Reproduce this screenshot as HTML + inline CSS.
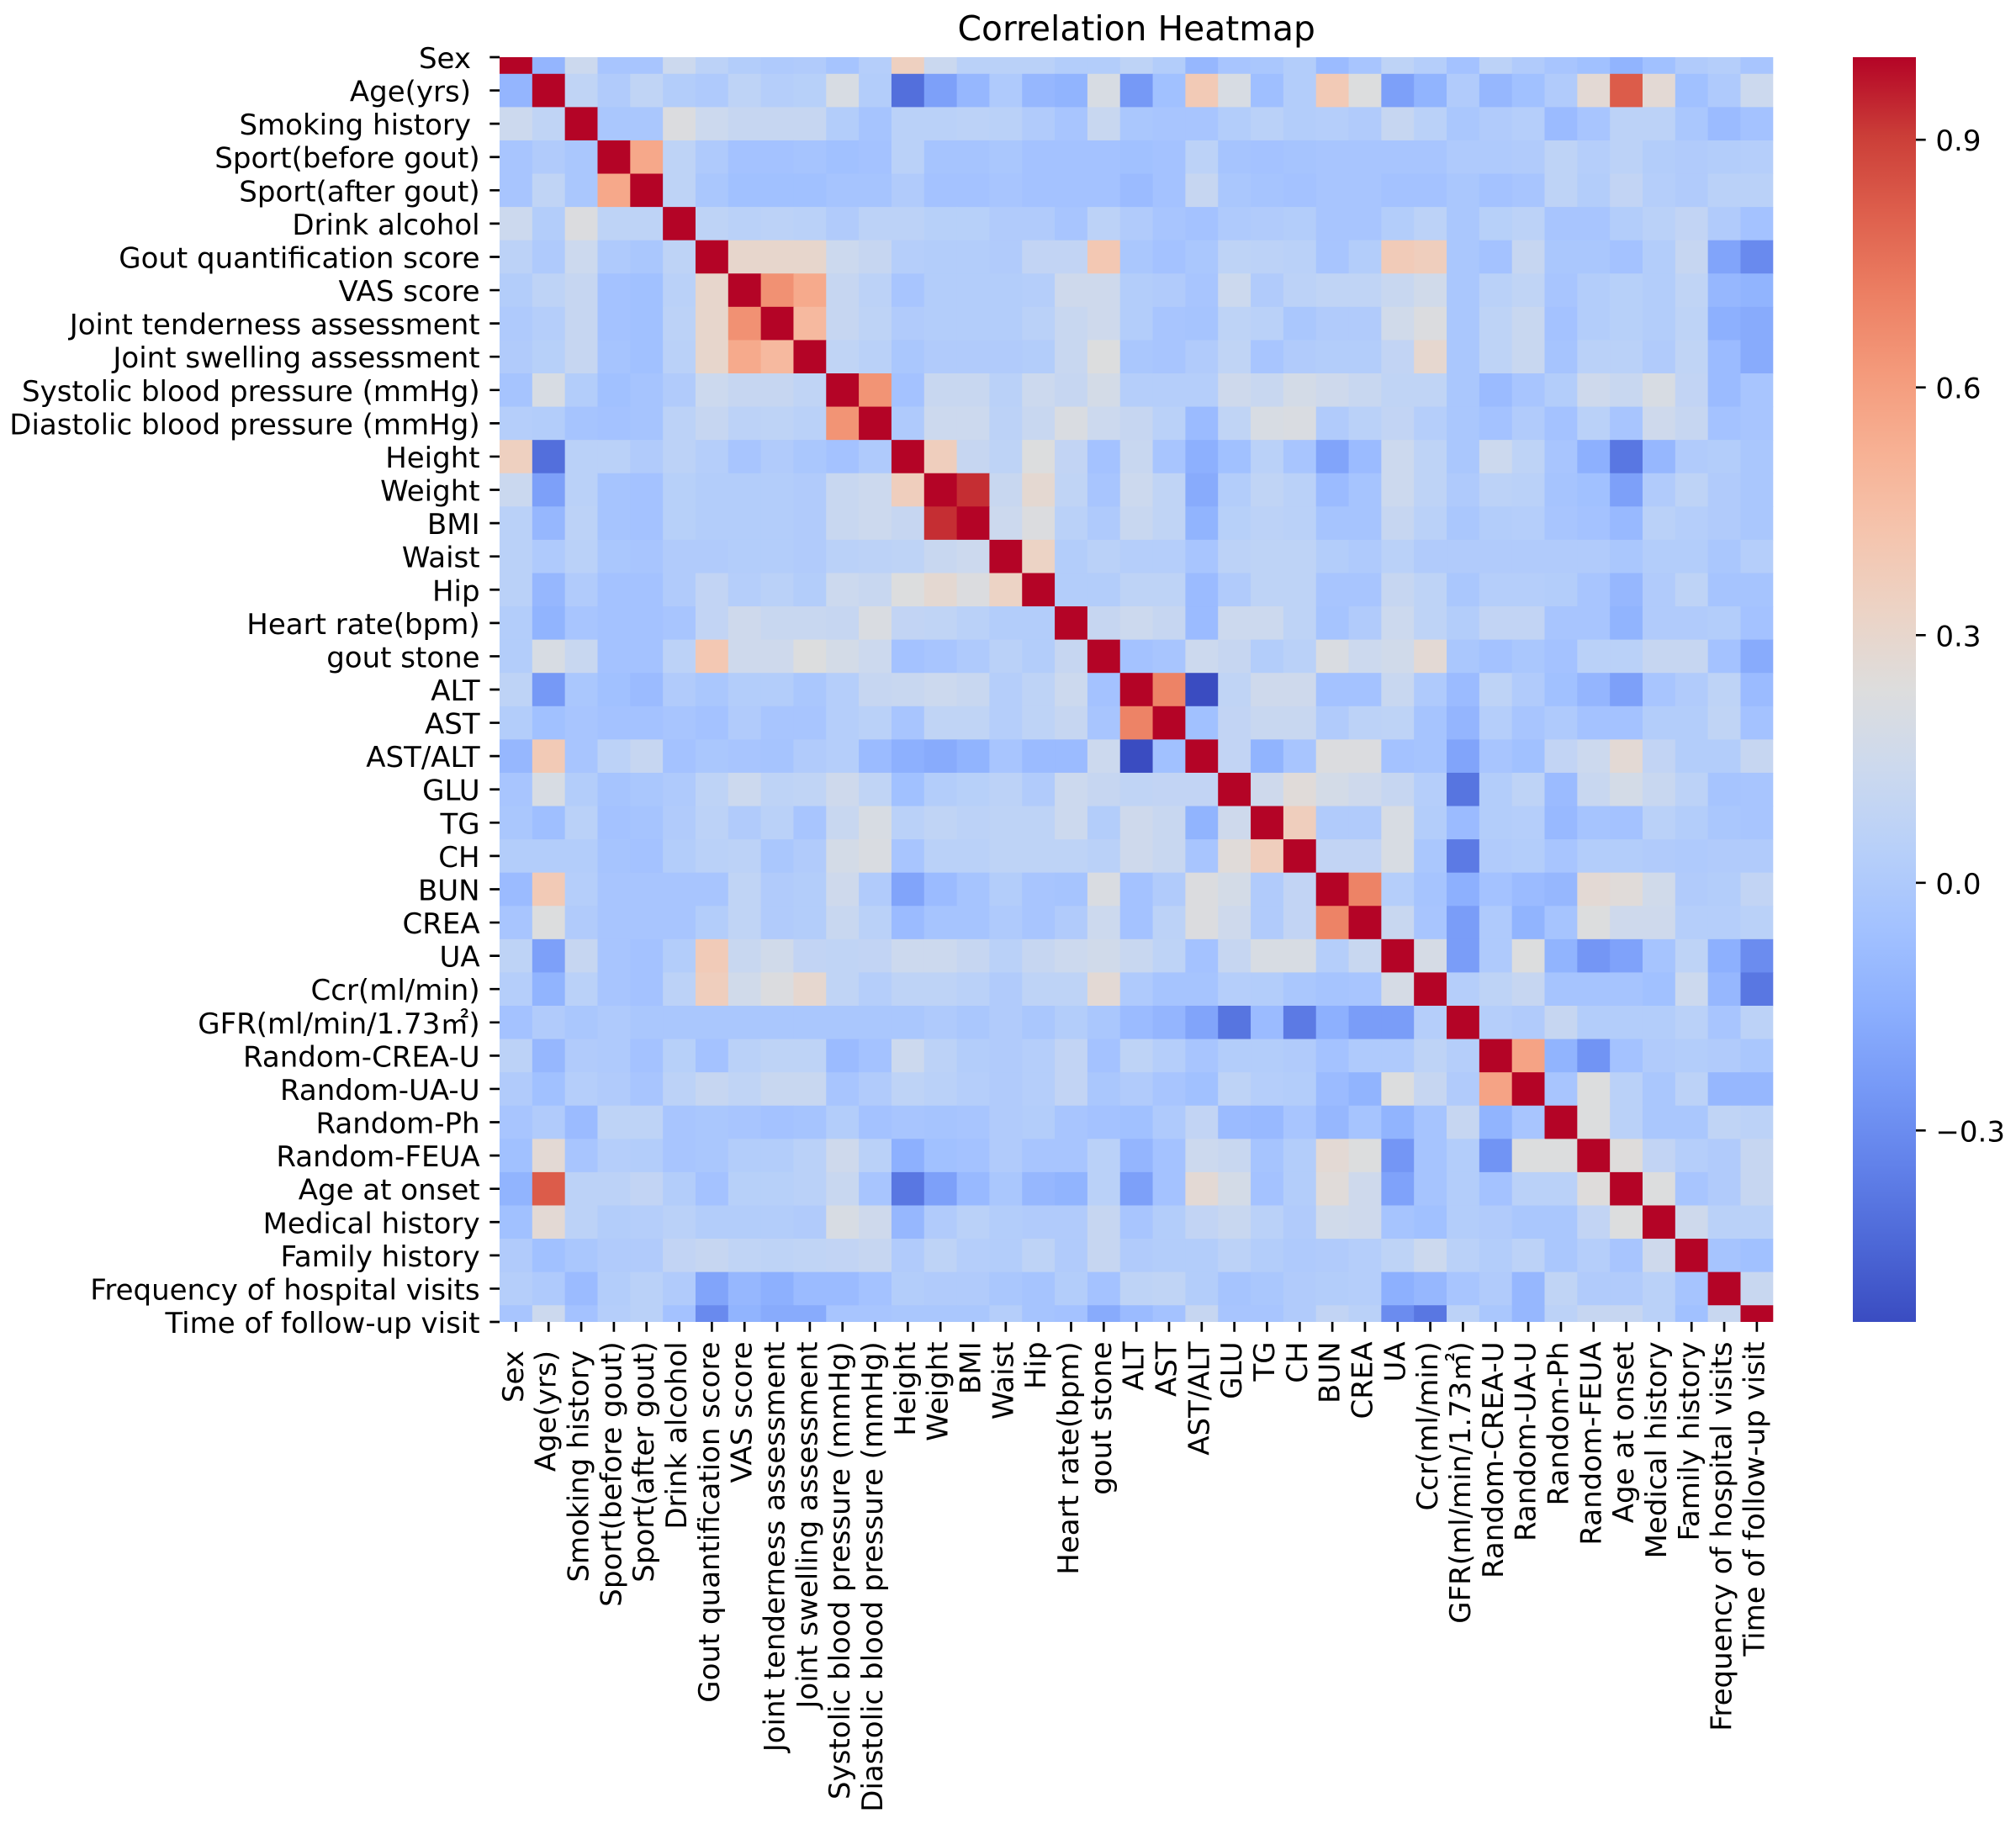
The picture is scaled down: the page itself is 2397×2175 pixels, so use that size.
<!DOCTYPE html>
<html>
<head>
<meta charset="utf-8">
<style>
html,body{margin:0;padding:0;background:#fff;}
svg{display:block;}
text{font-family:"DejaVu Sans","Liberation Sans","Noto Sans CJK SC",sans-serif;fill:#000;}
.yl{font-size:34px;text-anchor:end;}
.xl{font-size:34px;text-anchor:end;}
.cl{font-size:34px;text-anchor:start;}
</style>
</head>
<body>
<svg id="root" xmlns="http://www.w3.org/2000/svg" width="2397" height="2175" viewBox="0 0 2397 2175">
<defs>
<clipPath id="hc"><rect x="594" y="68" width="1514.3" height="1504"/></clipPath>
<linearGradient id="cb" x1="0" y1="1" x2="0" y2="0">
<stop offset="0" stop-color="rgb(58,76,193)"/>
<stop offset="0.0625" stop-color="rgb(77,104,215)"/>
<stop offset="0.125" stop-color="rgb(98,130,234)"/>
<stop offset="0.1875" stop-color="rgb(119,154,247)"/>
<stop offset="0.25" stop-color="rgb(141,176,254)"/>
<stop offset="0.3125" stop-color="rgb(163,194,255)"/>
<stop offset="0.375" stop-color="rgb(184,208,249)"/>
<stop offset="0.4375" stop-color="rgb(204,217,238)"/>
<stop offset="0.5" stop-color="rgb(221,221,221)"/>
<stop offset="0.5625" stop-color="rgb(236,211,197)"/>
<stop offset="0.625" stop-color="rgb(245,196,173)"/>
<stop offset="0.6875" stop-color="rgb(247,177,148)"/>
<stop offset="0.75" stop-color="rgb(244,154,123)"/>
<stop offset="0.8125" stop-color="rgb(236,127,99)"/>
<stop offset="0.875" stop-color="rgb(222,96,77)"/>
<stop offset="0.9375" stop-color="rgb(203,62,56)"/>
<stop offset="1" stop-color="rgb(180,4,38)"/>
</linearGradient>
</defs>

<g id="cells" clip-path="url(#hc)"></g>
<rect x="2203" y="68" width="75" height="1504" fill="url(#cb)"/>
<g id="ticks" stroke="#000" stroke-width="2.7" fill="none"></g>

<text x="1351.2" y="48" font-size="40.8" text-anchor="middle">Correlation Heatmap</text>

<g class="ylabels">
<text class="yl" x="560" y="81">Sex</text>
<text class="yl" x="560" y="120.6">Age(yrs)</text>
<text class="yl" x="560" y="160.2">Smoking history</text>
<text class="yl" x="570.6" y="199.7">Sport(before gout)</text>
<text class="yl" x="570.6" y="239.3">Sport(after gout)</text>
<text class="yl" x="570.6" y="278.9">Drink alcohol</text>
<text class="yl" x="570.6" y="318.5">Gout quantification score</text>
<text class="yl" x="570.6" y="358.1">VAS score</text>
<text class="yl" x="570.6" y="397.6">Joint tenderness assessment</text>
<text class="yl" x="570.6" y="437.2">Joint swelling assessment</text>
<text class="yl" x="570.6" y="476.8">Systolic blood pressure (mmHg)</text>
<text class="yl" x="570.6" y="516.4">Diastolic blood pressure (mmHg)</text>
<text class="yl" x="570.6" y="556.0">Height</text>
<text class="yl" x="570.6" y="595.5">Weight</text>
<text class="yl" x="570.6" y="635.1">BMI</text>
<text class="yl" x="570.6" y="674.7">Waist</text>
<text class="yl" x="570.6" y="714.3">Hip</text>
<text class="yl" x="570.6" y="753.8">Heart rate(bpm)</text>
<text class="yl" x="570.6" y="793.4">gout stone</text>
<text class="yl" x="570.6" y="833.0">ALT</text>
<text class="yl" x="570.6" y="872.6">AST</text>
<text class="yl" x="570.6" y="912.2">AST/ALT</text>
<text class="yl" x="570.6" y="951.7">GLU</text>
<text class="yl" x="570.6" y="991.3">TG</text>
<text class="yl" x="570.6" y="1030.9">CH</text>
<text class="yl" x="570.6" y="1070.5">BUN</text>
<text class="yl" x="570.6" y="1110.1">CREA</text>
<text class="yl" x="570.6" y="1149.6">UA</text>
<text class="yl" x="570.6" y="1189.2">Ccr(ml/min)</text>
<text class="yl" x="570.6" y="1228.8">GFR(ml/min/1.73㎡)</text>
<text class="yl" x="570.6" y="1268.4">Random-CREA-U</text>
<text class="yl" x="570.6" y="1307.9">Random-UA-U</text>
<text class="yl" x="570.6" y="1347.5">Random-Ph</text>
<text class="yl" x="570.6" y="1387.1">Random-FEUA</text>
<text class="yl" x="570.6" y="1426.7">Age at onset</text>
<text class="yl" x="570.6" y="1466.3">Medical history</text>
<text class="yl" x="570.6" y="1505.8">Family history</text>
<text class="yl" x="570.6" y="1545.4">Frequency of hospital visits</text>
<text class="yl" x="570.6" y="1585.0">Time of follow-up visit</text>
</g>

<g class="xlabels">
<text class="xl" transform="translate(621.9,1606) rotate(-90)">Sex</text>
<text class="xl" transform="translate(660.7,1606) rotate(-90)">Age(yrs)</text>
<text class="xl" transform="translate(699.6,1606) rotate(-90)">Smoking history</text>
<text class="xl" transform="translate(738.4,1595.4) rotate(-90)">Sport(before gout)</text>
<text class="xl" transform="translate(777.2,1595.4) rotate(-90)">Sport(after gout)</text>
<text class="xl" transform="translate(816.1,1595.4) rotate(-90)">Drink alcohol</text>
<text class="xl" transform="translate(854.9,1595.4) rotate(-90)">Gout quantification score</text>
<text class="xl" transform="translate(893.7,1595.4) rotate(-90)">VAS score</text>
<text class="xl" transform="translate(932.5,1595.4) rotate(-90)">Joint tenderness assessment</text>
<text class="xl" transform="translate(971.4,1595.4) rotate(-90)">Joint swelling assessment</text>
<text class="xl" transform="translate(1010.2,1595.4) rotate(-90)">Systolic blood pressure (mmHg)</text>
<text class="xl" transform="translate(1049.0,1595.4) rotate(-90)">Diastolic blood pressure (mmHg)</text>
<text class="xl" transform="translate(1087.9,1595.4) rotate(-90)">Height</text>
<text class="xl" transform="translate(1126.7,1595.4) rotate(-90)">Weight</text>
<text class="xl" transform="translate(1165.5,1595.4) rotate(-90)">BMI</text>
<text class="xl" transform="translate(1204.4,1595.4) rotate(-90)">Waist</text>
<text class="xl" transform="translate(1243.2,1595.4) rotate(-90)">Hip</text>
<text class="xl" transform="translate(1282.0,1595.4) rotate(-90)">Heart rate(bpm)</text>
<text class="xl" transform="translate(1320.9,1595.4) rotate(-90)">gout stone</text>
<text class="xl" transform="translate(1359.7,1595.4) rotate(-90)">ALT</text>
<text class="xl" transform="translate(1398.5,1595.4) rotate(-90)">AST</text>
<text class="xl" transform="translate(1437.3,1595.4) rotate(-90)">AST/ALT</text>
<text class="xl" transform="translate(1476.2,1595.4) rotate(-90)">GLU</text>
<text class="xl" transform="translate(1515.0,1595.4) rotate(-90)">TG</text>
<text class="xl" transform="translate(1553.8,1595.4) rotate(-90)">CH</text>
<text class="xl" transform="translate(1592.7,1595.4) rotate(-90)">BUN</text>
<text class="xl" transform="translate(1631.5,1595.4) rotate(-90)">CREA</text>
<text class="xl" transform="translate(1670.3,1595.4) rotate(-90)">UA</text>
<text class="xl" transform="translate(1709.2,1595.4) rotate(-90)">Ccr(ml/min)</text>
<text class="xl" transform="translate(1748.0,1595.4) rotate(-90)">GFR(ml/min/1.73㎡)</text>
<text class="xl" transform="translate(1786.8,1595.4) rotate(-90)">Random-CREA-U</text>
<text class="xl" transform="translate(1825.6,1595.4) rotate(-90)">Random-UA-U</text>
<text class="xl" transform="translate(1864.5,1595.4) rotate(-90)">Random-Ph</text>
<text class="xl" transform="translate(1903.3,1595.4) rotate(-90)">Random-FEUA</text>
<text class="xl" transform="translate(1942.1,1595.4) rotate(-90)">Age at onset</text>
<text class="xl" transform="translate(1981.0,1595.4) rotate(-90)">Medical history</text>
<text class="xl" transform="translate(2019.8,1595.4) rotate(-90)">Family history</text>
<text class="xl" transform="translate(2058.6,1595.4) rotate(-90)">Frequency of hospital visits</text>
<text class="xl" transform="translate(2097.5,1595.4) rotate(-90)">Time of follow-up visit</text>
</g>

<g class="cblabels">
<text class="cl" x="2301.4" y="179.2">0.9</text>
<text class="cl" x="2301.4" y="473.7">0.6</text>
<text class="cl" x="2301.4" y="768.3">0.3</text>
<text class="cl" x="2301.4" y="1062.8">0.0</text>
<text class="cl" x="2301.4" y="1357.3">−0.3</text>
</g>
</svg>

<script>
(function(){
var U=[
[-0.12,0.14,-0.03,-0.03,0.14,0.06,0.02,0.0,0.01,-0.04,0.03,0.35,0.13,0.05,0.05,0.05,0.02,0.02,0.07,0.02,-0.11,-0.03,-0.02,0.02,-0.09,-0.03,0.07,0.03,-0.05,0.06,0.01,-0.03,-0.06,-0.13,-0.06,0.01,0.03,-0.03],
[0.08,0.01,0.08,0.02,0.0,0.07,0.03,0.04,0.2,0.02,-0.41,-0.22,-0.11,0.0,-0.11,-0.13,0.2,-0.25,-0.06,0.39,0.2,-0.07,0.02,0.39,0.23,-0.22,-0.13,0.01,-0.11,-0.06,0.01,0.27,0.82,0.27,-0.06,0.0,0.14],
[-0.02,-0.02,0.22,0.14,0.11,0.11,0.11,0.02,-0.04,0.05,0.05,0.06,0.05,0.01,-0.03,0.12,-0.02,-0.03,-0.03,0.02,0.05,0.02,0.03,0.01,0.11,0.05,-0.02,0.01,0.03,-0.09,-0.03,0.06,0.06,-0.02,-0.09,-0.05],
[0.56,0.07,0.0,-0.05,-0.05,-0.04,-0.06,-0.05,0.05,-0.04,-0.04,-0.02,-0.05,-0.05,-0.05,-0.06,-0.05,0.06,-0.04,-0.05,-0.04,-0.03,-0.03,-0.03,-0.03,0.0,0.0,0.01,0.07,0.03,0.06,0.02,0.01,0.02,0.03],
[0.07,-0.02,-0.06,-0.06,-0.06,-0.04,-0.04,0.01,-0.05,-0.05,-0.03,-0.05,-0.05,-0.05,-0.09,-0.05,0.11,-0.02,-0.04,-0.05,-0.03,-0.03,-0.05,-0.05,-0.02,-0.05,-0.03,0.07,0.02,0.09,0.03,0.01,0.05,0.05],
[0.07,0.05,0.06,0.05,0.01,0.06,0.06,0.04,0.04,0.01,0.01,-0.03,0.06,0.01,-0.03,-0.05,0.0,0.01,0.02,-0.03,-0.03,0.02,0.06,-0.02,0.04,0.06,-0.03,-0.03,0.02,0.05,0.09,0.01,-0.05],
[0.3,0.3,0.3,0.14,0.11,0.03,0.02,0.02,0.01,0.09,0.09,0.4,-0.02,-0.05,-0.02,0.07,0.06,0.05,-0.03,0.02,0.38,0.36,-0.02,-0.05,0.11,-0.02,-0.02,-0.05,0.02,0.11,-0.2,-0.31],
[0.65,0.55,0.11,0.06,-0.03,0.02,0.02,0.02,0.03,0.15,0.15,0.02,0.01,-0.03,0.14,0.01,0.06,0.08,0.08,0.12,0.16,-0.02,0.05,0.08,-0.03,0.02,0.04,0.02,0.08,-0.11,-0.13],
[0.48,0.11,0.07,0.01,0.02,0.02,0.02,0.05,0.12,0.15,0.02,-0.03,-0.04,0.07,0.05,-0.02,0.01,0.01,0.16,0.22,-0.02,0.07,0.12,-0.05,0.02,0.04,0.02,0.07,-0.15,-0.17],
[0.08,0.05,-0.02,0.01,0.01,0.01,0.02,0.12,0.23,-0.02,-0.03,0.01,0.08,-0.03,0.01,0.02,0.02,0.09,0.29,-0.02,0.07,0.12,-0.04,0.05,0.05,0.01,0.08,-0.09,-0.17],
[0.64,-0.05,0.12,0.12,0.05,0.14,0.11,0.18,0.03,0.03,0.03,0.15,0.12,0.18,0.15,0.12,0.08,0.08,-0.02,-0.09,-0.03,0.02,0.15,0.12,0.2,0.09,-0.09,-0.03],
[0.0,0.14,0.14,0.06,0.12,0.21,0.14,0.11,0.05,-0.09,0.08,0.2,0.21,0.01,0.05,0.09,0.03,-0.02,-0.05,0.01,-0.05,0.05,-0.03,0.15,0.11,-0.05,-0.03],
[0.36,0.11,0.07,0.23,0.09,-0.05,0.12,-0.03,-0.15,-0.06,0.05,-0.03,-0.2,-0.09,0.14,0.07,-0.02,0.14,0.07,-0.03,-0.15,-0.38,-0.11,0.01,0.02,-0.02],
[0.93,0.12,0.28,0.08,-0.03,0.14,0.08,-0.17,0.02,0.08,0.05,-0.09,-0.04,0.14,0.07,0.0,0.06,0.05,-0.04,-0.06,-0.22,0.01,0.07,0.01,-0.02],
[0.14,0.22,0.05,0.0,0.12,0.08,-0.13,0.04,0.06,0.05,-0.04,-0.04,0.11,0.05,-0.02,0.02,0.03,-0.03,-0.05,-0.1,0.05,0.03,0.01,-0.02],
[0.33,0.02,0.05,0.03,0.03,-0.03,0.06,0.07,0.07,0.02,0.0,0.05,0.01,0.01,0.01,0.01,0.01,0.01,-0.02,0.02,0.02,-0.02,0.03],
[0.02,0.02,0.07,0.07,-0.09,0.01,0.07,0.07,-0.03,-0.03,0.11,0.07,-0.02,0.03,0.03,0.02,-0.03,-0.11,0.01,0.07,-0.04,-0.04],
[0.11,0.14,0.11,-0.09,0.14,0.14,0.07,-0.04,0.01,0.14,0.07,0.02,0.09,0.09,-0.03,-0.03,-0.13,0.01,0.01,0.02,-0.05],
[-0.05,-0.03,0.14,0.11,0.02,0.05,0.21,0.14,0.16,0.27,-0.02,-0.05,-0.02,-0.05,0.05,0.05,0.11,0.11,-0.05,-0.17],
[0.7,-0.532,0.08,0.15,0.15,-0.05,-0.05,0.12,0.0,-0.09,0.07,0.01,-0.06,-0.12,-0.22,-0.03,0.01,0.07,-0.09],
[-0.06,0.09,0.12,0.12,0.01,0.06,0.07,-0.04,-0.12,0.03,-0.03,0.0,-0.05,-0.05,0.02,0.02,0.08,-0.05],
[0.09,-0.13,-0.03,0.22,0.22,-0.05,-0.04,-0.2,-0.03,-0.06,0.09,0.14,0.27,0.09,0.02,0.02,0.11],
[0.15,0.25,0.18,0.15,0.11,0.03,-0.39,0.02,0.07,-0.09,0.12,0.18,0.12,0.06,-0.04,-0.03],
[0.36,0.01,0.01,0.2,0.02,-0.09,0.02,0.03,-0.1,-0.04,-0.05,0.05,0.02,-0.02,-0.03],
[0.09,0.09,0.2,-0.02,-0.37,0.01,0.02,-0.03,0.02,0.02,0.01,0.0,0.01,0.01],
[0.7,0.03,-0.04,-0.15,-0.05,-0.09,-0.11,0.27,0.25,0.16,0.01,0.02,0.09],
[0.12,-0.03,-0.23,0.0,-0.13,-0.04,0.23,0.15,0.15,0.03,0.03,0.05],
[0.19,-0.23,0.0,0.23,-0.13,-0.26,-0.21,-0.04,0.07,-0.15,-0.3],
[0.03,0.07,0.11,-0.04,-0.04,-0.04,-0.06,0.14,-0.11,-0.38],
[0.03,0.01,0.11,0.02,0.02,0.02,0.05,-0.03,0.06],
[0.58,-0.13,-0.27,-0.05,0.01,0.02,0.01,-0.02],
[-0.03,0.23,0.05,-0.02,0.06,-0.11,-0.11],
[0.23,0.05,-0.02,-0.02,0.08,0.06],
[0.24,0.09,0.03,0.01,0.11],
[0.23,-0.03,0.01,0.11],
[0.15,0.05,0.05],
[-0.04,-0.06],
[0.12]
];
var CW=[[58,76,193],[77,104,215],[98,130,234],[119,154,247],[141,176,254],[163,194,255],[184,208,249],[204,217,238],[221,221,221],[236,211,197],[245,196,173],[247,177,148],[244,154,123],[236,127,99],[222,96,77],[203,62,56],[180,4,38]];
function col(t){
  t=Math.max(0,Math.min(1,t));
  var p=t*16,i=Math.min(15,Math.floor(p)),f=p-i,a=CW[i],b=CW[i+1];
  return 'rgb('+Math.round(a[0]+(b[0]-a[0])*f)+','+Math.round(a[1]+(b[1]-a[1])*f)+','+Math.round(a[2]+(b[2]-a[2])*f)+')';
}
var NS='http://www.w3.org/2000/svg';
var N=39,x0=594,cw=1514.3/39,y0=68,rh=1504/38,vmin=-0.532,vmax=1.0;
var g=document.getElementById('cells');
for(var i=0;i<N;i++){
  for(var j=0;j<N;j++){
    var v=(i===j)?1:(i<j?U[i][j-i-1]:U[j][i-j-1]);
    var r=document.createElementNS(NS,'rect');
    r.setAttribute('x',(x0+j*cw).toFixed(2));
    r.setAttribute('y',(y0+(i-0.5)*rh).toFixed(2));
    r.setAttribute('width',(cw+0.6).toFixed(2));
    r.setAttribute('height',(rh+0.6).toFixed(2));
    r.setAttribute('fill',col((v-vmin)/(vmax-vmin)));
    g.appendChild(r);
  }
}
var tg=document.getElementById('ticks');
var d='';
for(var k=0;k<N;k++){
  var y=y0+k*rh, x=x0+(k+0.5)*cw;
  d+='M582.3 '+y.toFixed(2)+'H594';
  d+='M'+x.toFixed(2)+' 1572V1583.7';
}
var cbt=[166.2,460.7,755.3,1049.8,1344.3];
for(var m=0;m<cbt.length;m++){ d+='M2278 '+cbt[m]+'H2289.7'; }
var pth=document.createElementNS(NS,'path');
pth.setAttribute('d',d);
tg.appendChild(pth);
})();
</script>
</body>
</html>
